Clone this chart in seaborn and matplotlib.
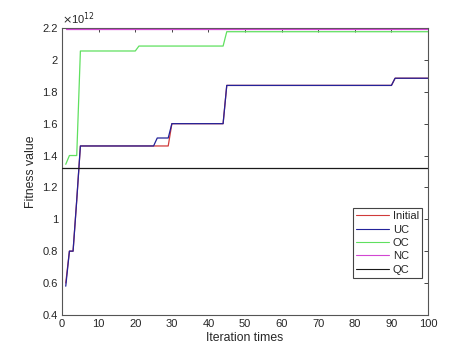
import numpy as np
import pandas as pd
import matplotlib
matplotlib.use("Agg")
import matplotlib.pyplot as plt
import seaborn as sns

## fitness values (x1e12), as step levels + how many iterations each lasts
initial_levels = [0.60, 0.80, 1.12, 1.46, 1.60, 1.84, 1.885]
initial_counts = [1, 2, 1, 25, 15, 46, 10]

uc_levels = [0.58, 0.80, 1.12, 1.46, 1.51, 1.60, 1.84, 1.885]
uc_counts = [1, 2, 1, 21, 4, 15, 46, 10]

oc_levels = [1.345, 1.40, 2.056, 2.087, 2.177]
oc_counts = [1, 3, 16, 24, 56]

nc_levels = [2.197]
nc_counts = [100]

qc_levels = [1.32]
qc_counts = [101]

series_names = ['Initial', 'UC', 'OC', 'NC', 'QC']
series_colors = ['#d03a3a', '#23239a', '#5fe05f', '#d246d2', '#1a1a1a']

y_ticks = [0.4, 0.6, 0.8, 1.0, 1.2, 1.4, 1.6, 1.8, 2.0, 2.2]
x_ticks = [0, 10, 20, 30, 40, 50, 60, 70, 80, 90, 100]


def expand(levels, counts, start):
    vals = np.repeat(levels, counts)
    return pd.DataFrame({'iter': np.arange(start, start + len(vals)), 'value': vals})


frames = []
for name, lv, ct, st in [('Initial', initial_levels, initial_counts, 1),
                         ('UC', uc_levels, uc_counts, 1),
                         ('OC', oc_levels, oc_counts, 1),
                         ('NC', nc_levels, nc_counts, 1),
                         ('QC', qc_levels, qc_counts, 0)]:
    d = expand(lv, ct, st)
    d['series'] = name
    frames.append(d)
df = pd.concat(frames, ignore_index=True)

sns.set_style('white')
plt.rcParams['font.family'] = ['Liberation Sans', 'DejaVu Sans']

fig = plt.figure(figsize=(4.74, 3.55), dpi=100)
ax = fig.add_axes([0.131, 0.113, 0.772, 0.808])

sns.lineplot(data=df, x='iter', y='value', hue='series', hue_order=series_names,
             palette=series_colors, estimator=None, linewidth=0.9, ax=ax)
# keep the lines above the box so the NC line at the top stays visible
for line in ax.get_lines():
    line.set_zorder(3)

ax.set_xlim(0, 100)
ax.set_ylim(0.4, 2.2)
ax.set_xticks(x_ticks)
ax.set_yticks(y_ticks)
ax.set_yticklabels([f'{v:g}' for v in y_ticks])
ax.set_xlabel('Iteration times', fontsize=8.8, color='#262626', labelpad=2)
ax.set_ylabel('Fitness value', fontsize=8.8, color='#262626', labelpad=4)
ax.text(0.0, 1.005, r'$\times$10$^{12}$', transform=ax.transAxes, fontsize=8,
        color='#262626', ha='left', va='bottom')

ax.tick_params(direction='in', length=3, width=0.6, labelsize=8,
               colors='#262626', top=True, right=True, pad=3)
for sp in ax.spines.values():
    sp.set_color('#555555')
    sp.set_linewidth(0.8)

leg = ax.legend(loc='lower right', bbox_to_anchor=(0.984, 0.129), fontsize=8,
                frameon=True, fancybox=False, framealpha=1, edgecolor='#444444',
                handlelength=3.0, handletextpad=0.3, labelspacing=0.3,
                borderpad=0.3, borderaxespad=0)
leg.get_frame().set_linewidth(0.8)
for line in leg.get_lines():
    line.set_linewidth(0.8)

fig.savefig('out.png', dpi=100, facecolor='white')
